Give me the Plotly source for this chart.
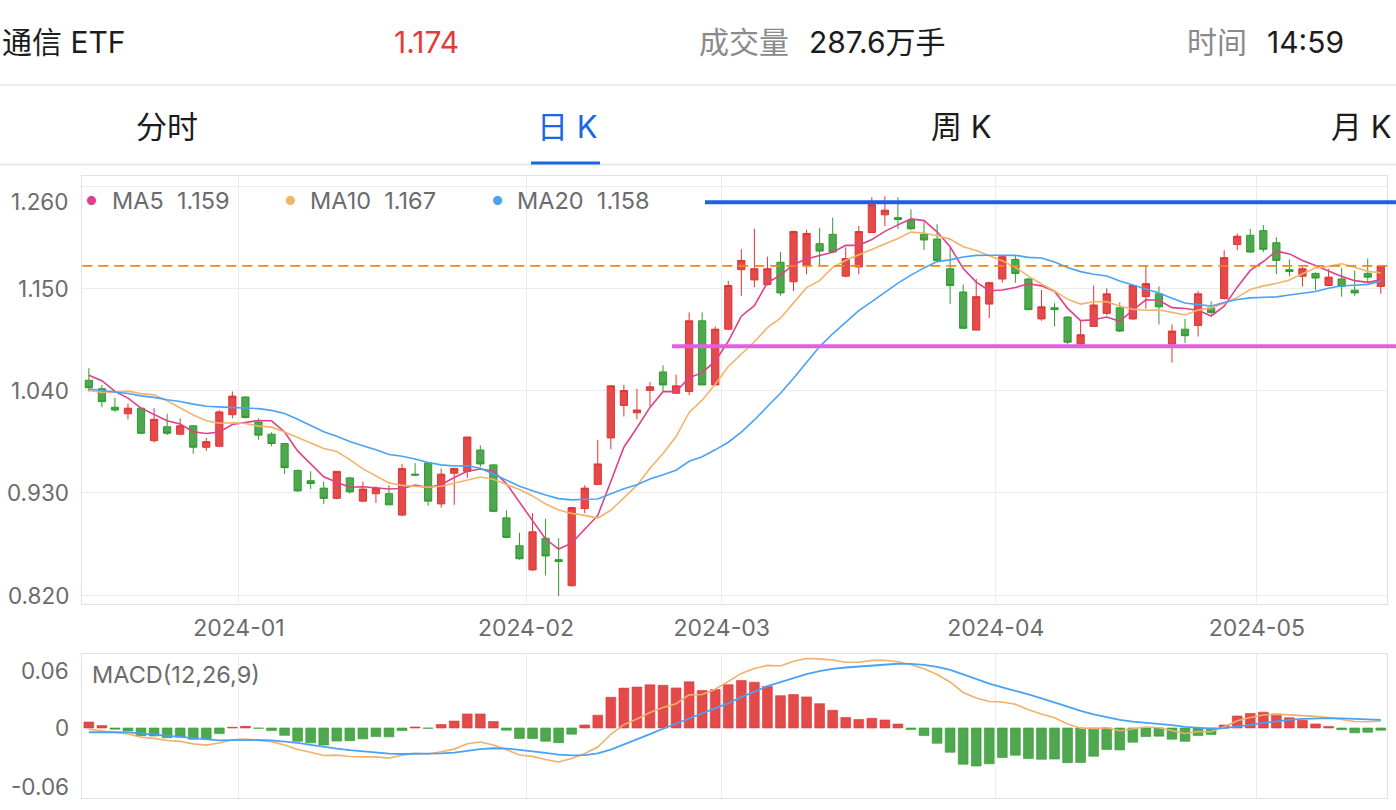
import plotly.graph_objects as go
import pandas as pd

# ---------------- data ----------------
dates = [
    "2023-12-14", "2023-12-15", "2023-12-18", "2023-12-19", "2023-12-20", "2023-12-21", "2023-12-22",
    "2023-12-25", "2023-12-26", "2023-12-27", "2023-12-28", "2023-12-29",
    "2024-01-02", "2024-01-03", "2024-01-04", "2024-01-05", "2024-01-08", "2024-01-09", "2024-01-10",
    "2024-01-11", "2024-01-12", "2024-01-15", "2024-01-16", "2024-01-17", "2024-01-18", "2024-01-19",
    "2024-01-22", "2024-01-23", "2024-01-24", "2024-01-25", "2024-01-26", "2024-01-29", "2024-01-30",
    "2024-01-31",
    "2024-02-01", "2024-02-02", "2024-02-05", "2024-02-06", "2024-02-07", "2024-02-08", "2024-02-19",
    "2024-02-20", "2024-02-21", "2024-02-22", "2024-02-23", "2024-02-26", "2024-02-27", "2024-02-28",
    "2024-02-29",
    "2024-03-01", "2024-03-04", "2024-03-05", "2024-03-06", "2024-03-07", "2024-03-08", "2024-03-11",
    "2024-03-12", "2024-03-13", "2024-03-14", "2024-03-15", "2024-03-18", "2024-03-19", "2024-03-20",
    "2024-03-21", "2024-03-22", "2024-03-25", "2024-03-26", "2024-03-27", "2024-03-28", "2024-03-29",
    "2024-04-01", "2024-04-02", "2024-04-03", "2024-04-08", "2024-04-09", "2024-04-10", "2024-04-11",
    "2024-04-12", "2024-04-15", "2024-04-16", "2024-04-17", "2024-04-18", "2024-04-19", "2024-04-22",
    "2024-04-23", "2024-04-24", "2024-04-25", "2024-04-26", "2024-04-29", "2024-04-30",
    "2024-05-06", "2024-05-07", "2024-05-08", "2024-05-09", "2024-05-10", "2024-05-13", "2024-05-14",
    "2024-05-15", "2024-05-16", "2024-05-17",
]

opens = [
    1.051, 1.042, 1.022, 1.015, 1.021, 0.986, 1.001, 0.993, 1.002, 0.979, 0.980, 1.014,
    1.033, 1.006, 0.993, 0.983, 0.954, 0.943, 0.935, 0.924, 0.946, 0.921, 0.929, 0.929,
    0.906, 0.950, 0.962, 0.918, 0.951, 0.953, 0.976, 0.960, 0.903, 0.873,
    0.847, 0.881, 0.858, 0.830, 0.913, 0.939, 0.989, 1.024, 1.016, 1.040, 1.060, 1.037,
    1.039, 1.115, 1.046,
    1.106, 1.170, 1.159, 1.154, 1.178, 1.157, 1.175, 1.198, 1.208, 1.163, 1.173, 1.210,
    1.229, 1.226, 1.223, 1.208, 1.203, 1.171, 1.146, 1.105, 1.133,
    1.160, 1.181, 1.160, 1.117, 1.129, 1.119, 1.090, 1.109, 1.123, 1.129, 1.117, 1.141,
    1.144, 1.090, 1.106, 1.110, 1.129, 1.139, 1.197, 1.207,
    1.212, 1.199, 1.170, 1.163, 1.166, 1.153, 1.160, 1.148, 1.166, 1.152,
]
highs = [
    1.064, 1.046, 1.032, 1.026, 1.022, 1.021, 1.015, 1.010, 1.003, 0.989, 1.019, 1.039,
    1.034, 1.010, 0.995, 0.983, 0.955, 0.953, 0.942, 0.953, 0.947, 0.942, 0.937, 0.938,
    0.961, 0.962, 0.962, 0.956, 0.957, 0.990, 0.981, 0.961, 0.911, 0.887,
    0.908, 0.902, 0.881, 0.915, 0.938, 0.987, 1.046, 1.046, 1.042, 1.049, 1.067, 1.057,
    1.124, 1.124, 1.109,
    1.158, 1.192, 1.214, 1.184, 1.189, 1.212, 1.213, 1.215, 1.226, 1.194, 1.217, 1.248,
    1.249, 1.248, 1.235, 1.221, 1.219, 1.194, 1.154, 1.160, 1.157,
    1.185, 1.185, 1.161, 1.148, 1.134, 1.120, 1.115, 1.153, 1.150, 1.135, 1.154, 1.175,
    1.152, 1.111, 1.117, 1.147, 1.136, 1.191, 1.209, 1.214,
    1.218, 1.205, 1.181, 1.173, 1.167, 1.171, 1.172, 1.169, 1.182, 1.175,
]
lows = [
    1.039, 1.022, 1.017, 1.009, 0.993, 0.984, 0.992, 0.992, 0.972, 0.975, 0.979, 1.010,
    1.010, 0.987, 0.980, 0.950, 0.931, 0.934, 0.918, 0.923, 0.929, 0.920, 0.919, 0.917,
    0.905, 0.948, 0.916, 0.914, 0.917, 0.946, 0.958, 0.909, 0.881, 0.858,
    0.846, 0.841, 0.819, 0.829, 0.908, 0.939, 0.977, 1.012, 1.009, 1.023, 1.039, 1.037,
    1.035, 1.046, 1.046,
    1.105, 1.142, 1.151, 1.153, 1.142, 1.147, 1.165, 1.175, 1.188, 1.162, 1.165, 1.210,
    1.217, 1.214, 1.213, 1.191, 1.179, 1.133, 1.106, 1.105, 1.118,
    1.156, 1.156, 1.127, 1.115, 1.109, 1.090, 1.090, 1.109, 1.121, 1.103, 1.116, 1.128,
    1.111, 1.070, 1.091, 1.098, 1.122, 1.138, 1.191, 1.188,
    1.189, 1.165, 1.163, 1.152, 1.148, 1.153, 1.141, 1.142, 1.157, 1.144,
]
closes = [
    1.043, 1.028, 1.019, 1.021, 0.994, 1.009, 0.994, 1.002, 0.979, 0.985, 1.017, 1.034,
    1.011, 0.992, 0.983, 0.957, 0.932, 0.940, 0.924, 0.953, 0.931, 0.934, 0.935, 0.917,
    0.956, 0.949, 0.921, 0.950, 0.956, 0.990, 0.961, 0.910, 0.882, 0.859,
    0.888, 0.862, 0.856, 0.914, 0.935, 0.961, 1.045, 1.040, 1.019, 1.044, 1.046, 1.045,
    1.115, 1.046, 1.106,
    1.153, 1.180, 1.171, 1.171, 1.145, 1.211, 1.209, 1.190, 1.189, 1.182, 1.211, 1.240,
    1.234, 1.224, 1.214, 1.202, 1.180, 1.153, 1.107, 1.141, 1.156,
    1.184, 1.166, 1.127, 1.130, 1.127, 1.092, 1.100, 1.132, 1.144, 1.104, 1.153, 1.155,
    1.130, 1.104, 1.099, 1.144, 1.124, 1.183, 1.206, 1.189,
    1.192, 1.180, 1.168, 1.171, 1.161, 1.162, 1.152, 1.145, 1.162, 1.174,
]
# closes of the 19 sessions before the window (used only to warm up the moving averages)
prior_closes = [1.060, 1.055, 1.050, 1.045, 1.040, 1.045, 1.040, 1.035, 1.030, 1.032,
                1.048, 1.015, 1.012, 1.020, 1.023, 1.057, 1.077, 1.057, 1.048]
# MACD state on the session before the window
ema12_start, ema26_start, dea_start = 1.046, 1.047, -0.0045

ma_periods = [5, 10, 20]
ma_names = ["MA5", "MA10", "MA20"]
macd_params = (12, 26, 9)

price_ticks = [0.82, 0.93, 1.04, 1.15, 1.26]
price_tick_text = ["0.820", "0.930", "1.040", "1.150", "1.260"]
macd_tick_text = ["0.06", "0", "-0.06"]

stock_name = "通信 ETF"
volume_text = "287.6万手"
time_text = "14:59"
tabs = ["分时", "日 K", "周 K", "月 K"]
active_tab = 1
resistance_level = 1.2425
support_level = 1.0877

# ---------------- derived ----------------
n = len(dates)
idx = list(range(n))
all_closes = pd.Series(prior_closes + closes)
mas = [all_closes.rolling(p).mean().iloc[len(prior_closes):].tolist() for p in ma_periods]

f, s, sig = macd_params
a_f, a_s, a_sig = 2 / (f + 1), 2 / (s + 1), 2 / (sig + 1)
e_f, e_s, dea = ema12_start, ema26_start, dea_start
dif_l, dea_l, hist_l = [], [], []
for c in closes:
    e_f += a_f * (c - e_f)
    e_s += a_s * (c - e_s)
    d = e_f - e_s
    dea += a_sig * (d - dea)
    dif_l.append(d)
    dea_l.append(dea)
    hist_l.append(2 * (d - dea))

month_pos, month_lbl = [], []
for i in range(1, n):
    if dates[i][:7] != dates[i - 1][:7]:
        month_pos.append(i - 0.5)
        month_lbl.append(dates[i][:7])

# ---------------- style / layout constants (pixels) ----------------
W, H = 1396, 810
FONT = "Inter, 'Noto Sans CJK SC', sans-serif"
RED_L, RED_F = "#e03434", "#e34a4a"
GRN_L, GRN_F = "#2e9c2e", "#4fa84f"
MA_COLORS = ["#e0408a", "#f2b469", "#4aa2f5"]
GRID = "#ececec"
BORDER = "#e2e2e2"
GRAY = "#6b6b6b"

X0, X1 = 82.3, 1387.3
MAIN_T, MAIN_B = 176.0, 604.3
MACD_T, MACD_B = 654.3, 797.7
MACD_ZERO_PX, MACD_PX_PER_UNIT = 728.0, 1111.0
MACD_LABEL_PX = [670, 727, 786]


def px(x):
    return x / W


def py(y):
    return 1 - y / H


fig = go.Figure()
fig.add_trace(go.Candlestick(
    x=idx, open=opens, high=highs, low=lows, close=closes,
    increasing=dict(line=dict(color=RED_L, width=1), fillcolor=RED_F),
    decreasing=dict(line=dict(color=GRN_L, width=1), fillcolor=GRN_F),
    whiskerwidth=0, showlegend=False, hovertext=dates, xaxis="x", yaxis="y"))
for ma, col, nm in zip(mas, MA_COLORS, ma_names):
    fig.add_trace(go.Scatter(x=idx, y=ma, mode="lines", name=nm,
                             line=dict(color=col, width=1.6), showlegend=False,
                             xaxis="x", yaxis="y"))

fig.add_trace(go.Bar(x=idx, y=hist_l,
                     marker=dict(color=[RED_F if v >= 0 else GRN_F for v in hist_l],
                                 line=dict(color=[RED_L if v >= 0 else GRN_L for v in hist_l], width=0.6)),
                     showlegend=False, xaxis="x2", yaxis="y2"))
fig.add_trace(go.Scatter(x=idx, y=dif_l, mode="lines", line=dict(color="#f2b06a", width=1.6),
                         showlegend=False, xaxis="x2", yaxis="y2"))
fig.add_trace(go.Scatter(x=idx, y=dea_l, mode="lines", line=dict(color="#4aa2f5", width=1.8),
                         showlegend=False, xaxis="x2", yaxis="y2"))

xdom = [px(X0), px(X1)]
axis_common = dict(showline=True, mirror=True, linecolor=BORDER, linewidth=1, zeroline=False,
                   ticks="", fixedrange=True)
macd_range = [-(MACD_B - MACD_ZERO_PX) / MACD_PX_PER_UNIT, (MACD_ZERO_PX - MACD_T) / MACD_PX_PER_UNIT]

fig.update_layout(
    width=W, height=H, margin=dict(l=0, r=0, t=0, b=0),
    paper_bgcolor="white", plot_bgcolor="white",
    font=dict(family=FONT, color=GRAY),
    showlegend=False, boxgap=0.21, bargap=0.25,
    xaxis=dict(domain=xdom, anchor="y", range=[-0.5, n - 0.5], tickmode="array",
               tickvals=month_pos, ticktext=month_lbl, showgrid=True, gridcolor=GRID,
               tickfont=dict(size=23, color=GRAY, family=FONT), ticklabelstandoff=3,
               rangeslider=dict(visible=False), **axis_common),
    yaxis=dict(domain=[py(MAIN_B), py(MAIN_T)], anchor="x", range=[0.81, 1.2708],
               tickmode="array", tickvals=price_ticks, showticklabels=False,
               showgrid=True, gridcolor=GRID, **axis_common),
    xaxis2=dict(domain=xdom, anchor="y2", range=[-0.5, n - 0.5], tickmode="array",
                tickvals=month_pos, showticklabels=False, showgrid=True, gridcolor=GRID,
                **axis_common),
    yaxis2=dict(domain=[py(MACD_B), py(MACD_T)], anchor="x2", range=macd_range,
                showgrid=False, showticklabels=False, **axis_common),
)

ann = []
# y tick labels
for v, t in zip(price_ticks, price_tick_text):
    ann.append(dict(xref="paper", yref="y", x=px(71), y=v, text=t, xanchor="right",
                    yanchor="middle", showarrow=False, yshift=-15 if v == max(price_ticks) else 0,
                    font=dict(size=22.5, color=GRAY, family=FONT)))
for t, ypx in zip(macd_tick_text, MACD_LABEL_PX):
    ann.append(dict(xref="paper", yref="paper", x=px(71), y=py(ypx), text=t, xanchor="right",
                    yanchor="middle", showarrow=False, font=dict(size=22.5, color=GRAY, family=FONT)))
ann.append(dict(xref="paper", yref="paper", x=px(90), y=py(674), text="MACD(%d,%d,%d)" % macd_params,
                xanchor="left", yanchor="middle", showarrow=False,
                font=dict(size=23.5, color=GRAY, family=FONT)))
# MA legend
dot_x = [92, 290, 497]
for nm, ma, col, dx in zip(ma_names, mas, MA_COLORS, dot_x):
    ann.append(dict(xref="paper", yref="paper", x=px(dx), y=py(200), text="●", xanchor="center",
                    yanchor="middle", showarrow=False, font=dict(size=12, color=col, family=FONT)))
    ann.append(dict(xref="paper", yref="paper", x=px(dx + 18), y=py(201),
                    text=f"{nm}\u00a0 {ma[-1]:.3f}", xanchor="left", yanchor="middle",
                    showarrow=False, font=dict(size=23.5, color=GRAY, family=FONT)))
# header
hdr_y = py(42)
for text, x, col in [(stock_name, 0, "#1c1c1c"), (f"{closes[-1]:.3f}", 392, "#e33a3a"),
                     ("成交量", 697, "#8a8a8a"), (volume_text, 807, "#1c1c1c"),
                     ("时间", 1185, "#8a8a8a"), (time_text, 1265, "#1c1c1c")]:
    ann.append(dict(xref="paper", yref="paper", x=px(x), y=hdr_y, text=text, xanchor="left",
                    yanchor="middle", showarrow=False, font=dict(size=30, color=col, family=FONT)))
# tabs
tab_x = [167, 567, 961, 1361]
for i, (t, x) in enumerate(zip(tabs, tab_x)):
    ann.append(dict(xref="paper", yref="paper", x=px(x), y=py(127), text=t, xanchor="center",
                    yanchor="middle", showarrow=False,
                    font=dict(size=31, color="#1a66e6" if i == active_tab else "#1c1c1c", family=FONT)))
fig.update_layout(annotations=ann)

shapes = [
    dict(type="line", xref="paper", yref="paper", x0=0, x1=1, y0=py(85), y1=py(85),
         line=dict(color="#e6e6e6", width=1.5)),
    dict(type="line", xref="paper", yref="paper", x0=0, x1=1, y0=py(164.5), y1=py(164.5),
         line=dict(color="#e9e9e9", width=2)),
    dict(type="rect", xref="paper", yref="paper", x0=px(531), x1=px(600), y0=py(164.5), y1=py(161.5),
         fillcolor="#1a66e6", line=dict(width=0)),
    dict(type="line", xref="x domain", yref="y", x0=0, x1=1, y0=closes[-1], y1=closes[-1],
         line=dict(color="#f08a0c", width=1.8, dash="10px,6px")),
    dict(type="line", xref="paper", yref="y", x0=px(705), x1=1, y0=resistance_level, y1=resistance_level,
         line=dict(color="#1f5fe6", width=4)),
    dict(type="line", xref="paper", yref="y", x0=px(672), x1=1, y0=support_level, y1=support_level,
         line=dict(color="#e35de6", width=4)),
]
fig.update_layout(shapes=shapes)

fig.write_html("out.html")
